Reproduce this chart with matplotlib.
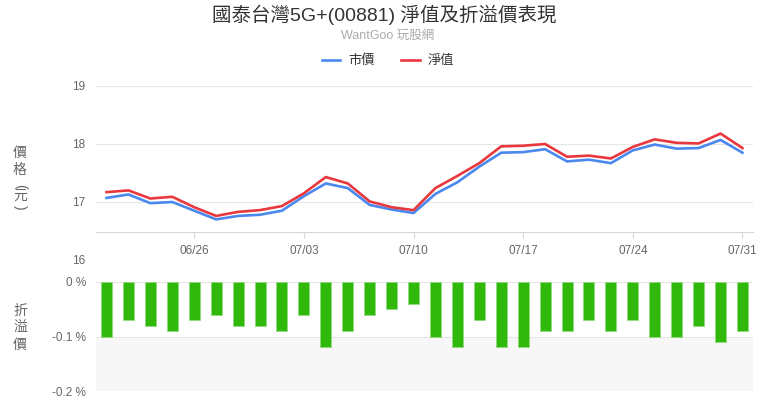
import numpy as np
import matplotlib
matplotlib.use("Agg")
import matplotlib.pyplot as plt
from matplotlib.ticker import FixedLocator, FuncFormatter

plt.rcParams['font.family'] = ['Liberation Sans', 'Noto Sans CJK TC', 'DejaVu Sans']

# 30 trading days, 06/19 .. 07/31
tick_pos = [4, 9, 14, 19, 24, 29]
tick_labels = ['06/26', '07/03', '07/10', '07/17', '07/24', '07/31']

market = [17.07, 17.13, 16.98, 17.00, 16.85, 16.70, 16.76, 16.78, 16.85, 17.10,
          17.32, 17.24, 16.95, 16.87, 16.81, 17.14, 17.34, 17.61, 17.85, 17.86,
          17.91, 17.70, 17.73, 17.67, 17.89, 17.99, 17.92, 17.93, 18.07, 17.85]
nav = [17.17, 17.20, 17.06, 17.09, 16.91, 16.76, 16.83, 16.86, 16.93, 17.15,
       17.43, 17.32, 17.01, 16.91, 16.86, 17.24, 17.45, 17.67, 17.96, 17.97,
       18.00, 17.78, 17.80, 17.75, 17.95, 18.08, 18.02, 18.01, 18.18, 17.93]
premium = [-0.10, -0.07, -0.08, -0.09, -0.07, -0.06, -0.08, -0.08, -0.09, -0.06,
           -0.12, -0.09, -0.06, -0.05, -0.04, -0.10, -0.12, -0.07, -0.12, -0.12,
           -0.09, -0.09, -0.07, -0.09, -0.07, -0.10, -0.10, -0.08, -0.11, -0.09]

x = np.arange(len(market))
W, H = 768, 409
fig = plt.figure(figsize=(W / 100, H / 100), dpi=100)

def box(l, t, r, b):
    return [l / W, (H - b) / H, (r - l) / W, (b - t) / H]

grid_c = '#e6e6e6'
lab_c = '#666666'

# price pane
ax1 = fig.add_axes(box(96, 86, 753, 260))
ax1.plot(x, market, color='#4a88ee', lw=1.9, label='市價', solid_joinstyle='round')
ax1.plot(x, nav, color='#e8383d', lw=1.9, label='淨值', solid_joinstyle='round')
ax1.set_xlim(-0.48, 29.48)
ax1.set_ylim(16, 19)
ax1.set_yticks([16, 17, 18, 19])
ax1.grid(axis='y', color=grid_c, lw=0.8)
ax1.set_axisbelow(True)
for s in ax1.spines.values():
    s.set_visible(False)
ax1.tick_params(axis='y', length=0, pad=8, labelsize=8.5, labelcolor=lab_c)
ax1.tick_params(axis='x', length=0, labelbottom=False)

sec = ax1.secondary_xaxis(28 / 174)
sec.xaxis.set_major_locator(FixedLocator(tick_pos))
sec.set_xticklabels(tick_labels)
sec.spines['bottom'].set_color('#d6d6d6')
sec.tick_params(axis='x', length=4, color='#d6d6d6', pad=5, labelsize=8.5, labelcolor=lab_c)

# premium pane
ax2 = fig.add_axes(box(96, 282, 753, 391))
ax2.axhspan(-0.2, -0.1, color='#f7f7f7', zorder=0)
ax2.bar(x, premium, width=0.5, color='#30b80a', edgecolor='#8fdc7c', lw=0.6, zorder=3)
ax2.set_xlim(-0.48, 29.48)
ax2.set_ylim(-0.2, 0)
ax2.set_yticks([0, -0.1, -0.2])
ax2.yaxis.set_major_formatter(FuncFormatter(lambda v, p: '0 %' if abs(v) < 1e-9 else f'{v:.1f} %'))
ax2.grid(axis='y', color=grid_c, lw=0.8)
ax2.set_axisbelow(True)
for s in ax2.spines.values():
    s.set_visible(False)
ax2.tick_params(axis='y', length=0, pad=7, labelsize=8.5, labelcolor=lab_c)
ax2.tick_params(axis='x', length=0, labelbottom=False)

# titles
fig.text(0.5, 1 - 15 / H, '國泰台灣5G+(00881) 淨值及折溢價表現', ha='center', va='center',
         fontsize=14, color='#333333')
fig.text(0.505, 1 - 36 / H, 'WantGoo 玩股網', ha='center', va='center', fontsize=9, color='#aaaaaa')

leg = fig.legend(loc='center', bbox_to_anchor=(0.505, 1 - 61 / H), ncol=2, frameon=False,
                 fontsize=9.5, handlelength=1.4, columnspacing=2.0, handletextpad=0.6)
for t in leg.get_texts():
    t.set_color('#333333')

# vertical axis titles, stacked characters
ylab1 = [('價', 0, 153), ('格', 0, 170), ('(', -90, 186), ('元', 0, 196), (')', -90, 207)]
for ch, rot, yy in ylab1:
    fig.text(20 / W, 1 - yy / H, ch, ha='center', va='center', fontsize=10,
             color=lab_c, rotation=rot)
for ch, yy in [('折', 311), ('溢', 328), ('價', 345)]:
    fig.text(20 / W, 1 - yy / H, ch, ha='center', va='center', fontsize=10, color=lab_c)

fig.savefig('out.png', dpi=100)
